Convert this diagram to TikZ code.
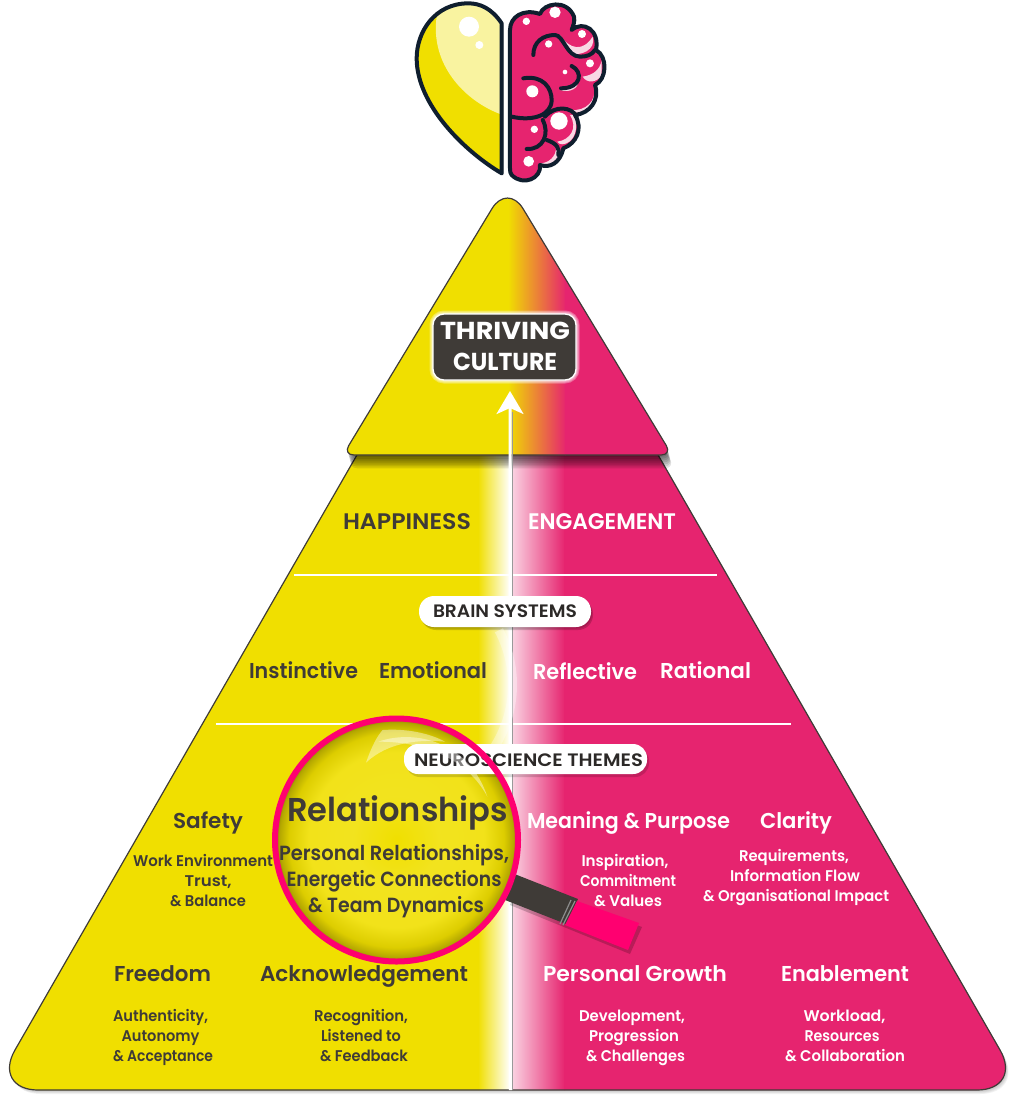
\documentclass[tikz,border=0pt]{standalone}
\usepackage{fontspec}
\usepackage{graphicx}
\setmainfont{Poppins}[BoldFont={Poppins SemiBold}]
\newfontfamily\heavy{Poppins}[UprightFont={* Bold}]
\usetikzlibrary{arrows.meta,calc}
\definecolor{yel}{HTML}{F0DF00}
\definecolor{pnk}{HTML}{E6246F}
\definecolor{mag}{HTML}{FF0070}
\definecolor{drk}{HTML}{3F3B37}
\definecolor{navy}{HTML}{0F1E2E}
\definecolor{pale}{HTML}{F8D8E4}
\definecolor{lite}{HTML}{F9F3A0}
\pgfdeclareradialshading{lensshade}{\pgfpoint{0bp}{0bp}}{color(0bp)=(yel); color(9bp)=(yel!88!white); color(18bp)=(yel!90!white); color(22bp)=(yel!92!black); color(24bp)=(yel!75!black); color(25bp)=(yel!55!black); color(50bp)=(yel!55!black)}
\newsavebox\txbox
\newcommand{\fitbox}[2]{% target width, content
  \sbox\txbox{#2}%
  \pgfmathsetmacro\txs{#1/\the\wd\txbox}%
  \scalebox{\txs}[1]{\usebox\txbox}}
\newcommand{\tx}[7]{%
  \node[txt,text=#6] (#1) at (#2,{#3+#5*0.35}) {\fitbox{#4}{\fontsize{#5}{#5}\selectfont\bfseries #7}};}
\newcommand{\txh}[7]{%
  \node[txt,text=#6] (#1) at (#2,{#3+#5*0.35}) {\fitbox{#4}{\fontsize{#5}{#5}\selectfont\heavy #7}};}
\newcommand{\lowerpath}{[rounded corners=46pt] (507.5,1090) -- (-8,1090) -- (507.5,193) -- (1023,1090) -- cycle}
\newcommand{\upperpath}{[rounded corners=11pt] (507.5,455) -- (343,455) [rounded corners=30pt] -- (507.5,183) [rounded corners=11pt] -- (672,455) -- cycle}
\tikzset{
  txt/.style={anchor=base,inner sep=0pt,outer sep=0pt},
  rule/.style={white,line width=1.1pt},
  brainline/.style={draw=navy,line width=4pt,line cap=round,line join=round},
}
\begin{document}
\begin{tikzpicture}[x=1pt,y=-1pt]
\useasboundingbox (0,0) rectangle (1011,1100);
% lower triangle shadow
\foreach \d in {1,...,5}{\fill[black,opacity=0.05,shift={(0.6*\d,0.8*\d)}] \lowerpath;}
\begin{scope}
  \clip \lowerpath;
  \fill[yel] (-10,190) rectangle (479,1095);
  \shade[left color=yel,right color=white] (478,190) rectangle (510,1095);
  \fill[white] (509,190) rectangle (514,1095);
  \shade[left color=pnk!22!white,right color=pnk] (513,190) rectangle (565,1095);
  \fill[pnk] (564,190) rectangle (1030,1095);
\end{scope}
\draw[drk,line width=1.2pt] \lowerpath;
% dividing rules
\coordinate (r1a) at (294,575); \coordinate (r1b) at (717,575);
\coordinate (r2a) at (216,724); \coordinate (r2b) at (791,724);
\draw[rule] (r1a) -- (r1b);
\draw[rule] (r2a) -- (r2b);
% upper triangle
\foreach \d in {1,...,7}{\fill[black,opacity=0.11,shift={(0.5*\d,1.9*\d)}] \upperpath;}
\begin{scope}
  \clip \upperpath;
  \fill[yel] (330,180) rectangle (509,460);
  \shade[left color=yel,right color=pnk] (508,180) rectangle (566,460);
  \fill[pnk] (565,180) rectangle (680,460);
\end{scope}
\draw[drk,line width=1.2pt] \upperpath;
% axis arrow
\coordinate (axb) at (510.3,1090); \coordinate (axt) at (510,391);
\coordinate (axgb) at (512.6,1090); \coordinate (axgt) at (512.6,412);
\draw[black!40,line width=1.5pt] (axgb) -- (axgt);
\draw[white,line width=3pt,-{Stealth[length=23pt,width=27pt,inset=6pt]}] (axb) -- (axt);
% thriving culture box
\foreach \w in {7,5,3}{\draw[white,opacity=0.3,line width=\w pt,rounded corners=11pt] (433,314) rectangle (576,380);}
\node[draw=white,fill=drk,line width=1.3pt,rounded corners=11pt,minimum width=143pt,minimum height=66pt,inner sep=0pt] (box) at (504.5,347) {};
\txh{thr}{505}{331}{130}{24.5}{white}{THRIVING}
\txh{cul}{505}{362}{104}{24.5}{white}{CULTURE}
% band titles
\tx{hap}{407}{522}{128}{22.5}{drk}{HAPPINESS}
\tx{eng}{602}{522}{148}{22.5}{white}{ENGAGEMENT}
% brain systems pill
\fill[black,opacity=0.18,rounded corners=15pt] (421,599) rectangle (593,630);
\fill[black,opacity=0.12,rounded corners=15pt] (420,598) rectangle (592,628.5);
\node[fill=white,rounded corners=15pt,minimum width=172pt,minimum height=31pt,inner sep=0pt] (bspill) at (505,611.5) {};
\tx{bs}{505}{611}{144}{18}{drk!70!black}{BRAIN SYSTEMS}
\tx{ins}{303.5}{671}{109}{21.5}{drk}{Instinctive}
\tx{emo}{433}{671}{108}{21.5}{drk}{Emotional}
\tx{ref}{585}{672}{104}{21.5}{white}{Reflective}
\tx{rat}{705.5}{671}{91}{21.5}{white}{Rational}
% themes
\tx{saf}{208}{821}{70}{21.5}{drk}{Safety}
\tx{wk1}{203}{861}{140}{15.5}{drk}{Work Environment}
\tx{wk2}{208}{881}{47}{15.5}{drk}{Trust,}
\tx{wk3}{208}{901}{76}{15.5}{drk}{\& Balance}
\tx{mea}{628.5}{821}{203}{21.5}{white}{Meaning \& Purpose}
\tx{in1}{625}{861}{87}{15.5}{white}{Inspiration,}
\tx{in2}{628}{881}{96}{15.5}{white}{Commitment}
\tx{in3}{628}{901}{68}{15.5}{white}{\& Values}
\tx{cla}{796}{821}{72}{21.5}{white}{Clarity}
\tx{cl1}{794}{856}{110}{15.5}{white}{Requirements,}
\tx{cl2}{795}{876}{130}{15.5}{white}{Information Flow}
\tx{cl3}{796}{896}{186}{15.5}{white}{\& Organisational Impact}
\tx{fre}{162.5}{974}{97}{21.5}{drk}{Freedom}
\tx{fr1}{160.5}{1016}{95}{15.5}{drk}{Authenticity,}
\tx{fr2}{160.5}{1036}{78}{15.5}{drk}{Autonomy}
\tx{fr3}{163}{1056}{100}{15.5}{drk}{\& Acceptance}
\tx{ack}{364}{974}{208}{21.5}{drk}{Acknowledgement}
\tx{ac1}{361}{1016}{94}{15.5}{drk}{Recognition,}
\tx{ac2}{361}{1036}{80}{15.5}{drk}{Listened to}
\tx{ac3}{364}{1056}{88}{15.5}{drk}{\& Feedback}
\tx{gro}{635}{974}{184}{21.5}{white}{Personal Growth}
\tx{gr1}{632}{1016}{106}{15.5}{white}{Development,}
\tx{gr2}{634}{1036}{90}{15.5}{white}{Progression}
\tx{gr3}{635.5}{1056}{99}{15.5}{white}{\& Challenges}
\tx{ena}{845}{974}{128}{21.5}{white}{Enablement}
\tx{en1}{844.5}{1016}{82}{15.5}{white}{Workload,}
\tx{en2}{842}{1036}{75}{15.5}{white}{Resources}
\tx{en3}{845}{1056}{120}{15.5}{white}{\& Collaboration}
% magnifier handle
\fill[black,opacity=0.2] (520,883) -- (642,927) -- (630,954) -- (510,905) -- cycle;
\fill[drk] (512,873) -- (578,899) -- (566,924) -- (500,898) -- cycle;
\fill[mag] (577,901) -- (639,923) -- (628,950) -- (565,925) -- cycle;
\draw[black!45,line width=1.2pt] (571,900) -- (560,924);
\draw[black!45,line width=1.2pt] (575,901) -- (563,925);
% lens
\node[circle,minimum size=244pt,inner sep=0pt,shading=lensshade] (lens) at (396.5,840) {};
\draw[white,opacity=0.35,line width=9pt] (396.5,840) ++(-42:116) arc[start angle=42,end angle=-28,radius=116];
% neuroscience pill
\fill[black,opacity=0.15,rounded corners=14pt] (406,747) rectangle (649,777);
\node[fill=white,rounded corners=14pt,minimum width=243pt,minimum height=30pt,inner sep=0pt] (nspill) at (525.5,759) {};
\tx{ns}{528.5}{760}{229}{18}{drk!70!black}{NEUROSCIENCE THEMES}
% lens highlights
\begin{scope}[shift={(260,700)},x=0.3333pt,y=-0.3333pt]
  \fill[white,opacity=0.42] (318,188) .. controls (335,140) and (350,110) .. (368,90) .. controls (440,85) and (510,100) .. (555,125) .. controls (480,118) and (385,125) .. (318,188) -- cycle;
  \fill[white,opacity=0.42] (355,125) .. controls (470,85) and (630,130) .. (682,290) .. controls (640,210) and (540,125) .. (355,125) -- cycle;
\end{scope}
% ring
\draw[mag,line width=6pt] (lens.center) circle[radius=121.5];
% lens texts
\tx{rel}{397.5}{810}{221}{33}{drk}{Relationships}
\tx{pr1}{394}{853}{230}{20.5}{drk}{Personal Relationships,}
\tx{pr2}{394}{879}{215}{20.5}{drk}{Energetic Connections}
\tx{pr3}{396}{905}{176}{20.5}{drk}{\& Team Dynamics}
% heart-brain icon
\newcommand{\brainpath}{(330,90) .. controls (330,50) and (370,25) .. (420,42) .. controls (430,10) and (500,-5) .. (522,50) .. controls (525,65) and (520,75) .. (515,90) .. controls (550,60) and (600,90) .. (588,150) .. controls (625,170) and (620,240) .. (585,255) .. controls (600,300) and (570,340) .. (525,345) .. controls (550,385) and (530,430) .. (490,445) .. controls (480,490) and (450,505) .. (420,495) .. controls (425,535) and (370,560) .. (335,525) .. controls (331,520) and (330,515) .. (330,505) -- cycle}
\begin{scope}[shift={(400,0)},x=0.3333pt,y=-0.3333pt]
  \fill[black,opacity=0.15] (312,76) .. controls (280,30) and (240,16) .. (208,16) .. controls (110,16) and (55,100) .. (55,180) .. controls (55,320) and (200,460) .. (312,526) -- cycle;
  \path[fill=yel] (305,70) .. controls (275,25) and (240,10) .. (205,10) .. controls (105,10) and (50,95) .. (50,175) .. controls (50,315) and (195,455) .. (305,520) -- cycle;
  \fill[lite] (110,50) .. controls (140,25) and (175,10) .. (205,10) .. controls (240,10) and (275,25) .. (300,70) -- (300,342) .. controls (190,300) and (90,190) .. (110,50) -- cycle;
  \draw[navy,line width=4pt,line join=round] (305,70) .. controls (275,25) and (240,10) .. (205,10) .. controls (105,10) and (50,95) .. (50,175) .. controls (50,315) and (195,455) .. (305,520) -- cycle;
  \fill[white] (207,80) circle[radius=30];
  \fill[white] (238,135) circle[radius=12];
  % brain
  \fill[pnk] \brainpath;
  \fill[pale] (480,105) .. controls (510,150) and (550,155) .. (578,110) .. controls (590,150) and (540,170) .. (510,160) .. controls (500,150) and (490,120) .. (480,105) -- cycle;
  \fill[pale] (605,180) .. controls (600,210) and (580,225) .. (548,230) .. controls (560,250) and (590,250) .. (605,225) -- cycle;
  \fill[pale] (480,265) .. controls (510,262) and (530,250) .. (535,235) .. controls (540,265) and (510,280) .. (480,270) -- cycle;
  \fill[pale] (582,262) .. controls (590,300) and (560,335) .. (510,330) .. controls (525,345) and (590,350) .. (590,270) -- cycle;
  \fill[pale] (510,345) .. controls (535,385) and (510,420) .. (472,425) .. controls (480,445) and (545,430) .. (525,345) -- cycle;
  \fill[pale] (468,440) .. controls (470,470) and (445,490) .. (420,490) .. controls (450,505) and (490,480) .. (480,445) -- cycle;
  \draw[brainline] \brainpath;
  \draw[brainline] (400,165) .. controls (400,125) and (430,105) .. (465,105) .. controls (490,105) and (500,170) .. (540,170) .. controls (560,170) and (575,165) .. (585,150);
  \draw[brainline] (515,198) .. controls (550,215) and (545,265) .. (483,265);
  \draw[brainline] (370,235) .. controls (430,225) and (455,265) .. (455,300) .. controls (455,345) and (400,365) .. (335,350);
  \draw[brainline] (435,350) .. controls (465,315) and (515,320) .. (530,350);
  \draw[brainline] (428,360) .. controls (450,400) and (430,450) .. (380,447);
  \draw[brainline] (440,420) .. controls (470,430) and (480,445) .. (475,465);
  \fill[white] (465,37) circle[radius=17];
  \fill[white] (379,64) circle[radius=11];
  \fill[white] (546,102) circle[radius=12];
  \fill[white] (446,132) circle[radius=11];
  \fill[white] (570,190) circle[radius=12];
  \fill[white] (495,216) circle[radius=7];
  \fill[white] (397,274) circle[radius=18];
  \fill[white] (477,363) circle[radius=26];
  \fill[white] (403,388) circle[radius=11];
  \fill[white] (386,484) circle[radius=16];
\end{scope}
\end{tikzpicture}
\end{document}
